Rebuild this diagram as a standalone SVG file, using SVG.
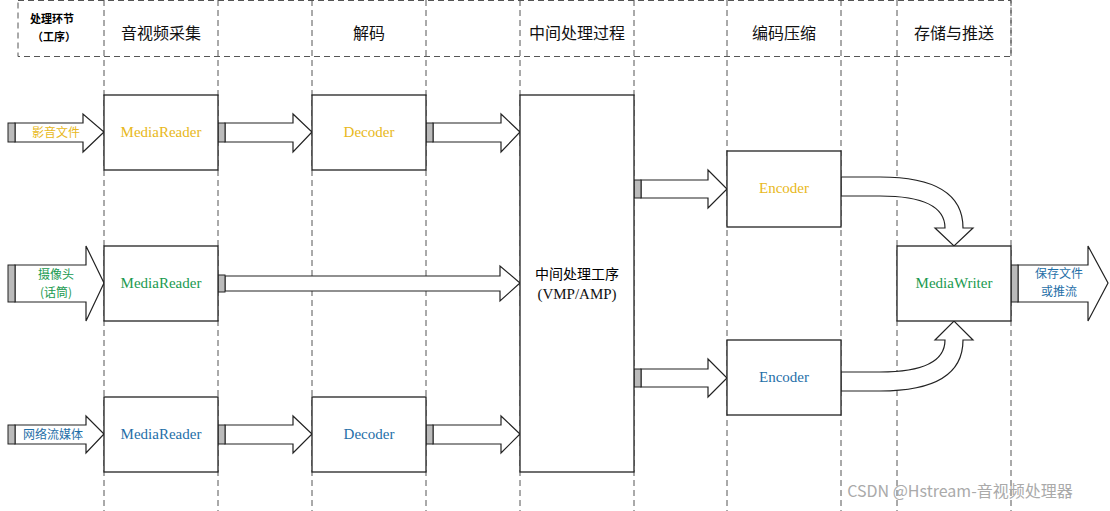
<svg xmlns="http://www.w3.org/2000/svg" width="1110" height="511" viewBox="0 0 1110 511">
<style>
.dash{stroke:#555;stroke-width:1;stroke-dasharray:6,4;fill:none}
.box{fill:#fff;stroke:#222;stroke-width:1.3}
.arr{fill:#fff;stroke:#222;stroke-width:1.2;stroke-linejoin:miter}
.tail{fill:#bbb;stroke:#222;stroke-width:1}
.h{font-family:"Noto Sans CJK SC",sans-serif;font-size:16px;fill:#111;text-anchor:middle}
.t{font-family:"Liberation Serif","Noto Sans CJK SC",serif;font-size:15px;text-anchor:middle}
.c{font-family:"Noto Sans CJK SC",sans-serif;font-size:12px;text-anchor:middle}
.y{fill:#e8b820}.g{fill:#1a9a50}.b{fill:#1f6fa8}
</style>
<rect width="1110" height="511" fill="#fff"/>
<g id="grid">
<rect x="18" y="0.5" width="993" height="56" class="dash"/>
<path class="dash" d="M104 0V511M218 0V511M312 0V511M426 0V511M520 0V511M634 0V511M727 0V511M841 0V511M897 0V511M1011 0V511"/>
<text x="52" y="23" style="font-family:'Noto Sans CJK SC',sans-serif;font-size:11px;font-weight:bold;text-anchor:middle">处理环节</text>
<text x="54" y="41" style="font-family:'Noto Sans CJK SC',sans-serif;font-size:11px;font-weight:bold;text-anchor:middle">（工序）</text>
<text x="161" y="39" class="h">音视频采集</text>
<text x="369" y="39" class="h">解码</text>
<text x="577" y="39" class="h">中间处理过程</text>
<text x="784" y="39" class="h">编码压缩</text>
<text x="954" y="39" class="h">存储与推送</text>
</g>
<g id="connectors">
<path class="arr" d="M15 123H83V114L104 132L83 152V142H15Z"/><rect class="tail" x="8" y="123" width="7" height="19"/>
<path class="arr" d="M15 265H86V246L104 283L86 321V302H15Z"/><rect class="tail" x="8" y="265" width="7" height="37"/>
<path class="arr" d="M15 425H86V416L104 434L86 453V444H15Z"/><rect class="tail" x="8" y="425" width="7" height="19"/>
<path class="arr" d="M225 123H293V114L312 132L293 152V142H225Z"/><rect class="tail" x="218" y="123" width="7" height="19"/>
<path class="arr" d="M433 123H501V114L520 132L501 152V142H433Z"/><rect class="tail" x="426" y="123" width="7" height="19"/>
<path class="arr" d="M225 425H293V416L312 434L293 453V444H225Z"/><rect class="tail" x="218" y="425" width="7" height="19"/>
<path class="arr" d="M433 425H501V416L520 434L501 453V444H433Z"/><rect class="tail" x="426" y="425" width="7" height="19"/>
<path class="arr" d="M225 276H500V266L520 283L500 301V291H225Z"/><rect class="tail" x="218" y="275" width="7" height="17"/>
<path class="arr" d="M641 180H708V170L727 189L708 208V198H641Z"/><rect class="tail" x="634" y="180" width="7" height="18"/>
<path class="arr" d="M641 369H708V359L727 378L708 397V387H641Z"/><rect class="tail" x="634" y="369" width="7" height="18"/>
<path class="arr" d="M1018 265H1088V246L1108 283L1088 321V302H1018Z"/><rect class="tail" x="1011" y="265" width="7" height="37"/>
<path class="arr" d="M841 177H880Q963 177 963 228H973L954 246L935 228H945Q945 196 880 196H841Z"/>
<path class="arr" d="M841 372H880Q945 372 945 340H935L954 321L973 340H963Q963 391 880 391H841Z"/>
<text x="56" y="137" class="c y">影音文件</text>
<text x="56" y="279" class="c g">摄像头</text>
<text x="56" y="297" class="c g">(话筒)</text>
<text x="53" y="439" class="c b">网络流媒体</text>
<text x="1059" y="278" class="c b">保存文件</text>
<text x="1059" y="296" class="c b">或推流</text>
</g>
<g id="mr1"><rect class="box" x="104" y="95" width="114" height="75"/><text x="161" y="137" class="t y">MediaReader</text></g>
<g id="dec1"><rect class="box" x="312" y="95" width="114" height="75"/><text x="369" y="137" class="t y">Decoder</text></g>
<g id="mr2"><rect class="box" x="104" y="246" width="114" height="75"/><text x="161" y="288" class="t g">MediaReader</text></g>
<g id="mr3"><rect class="box" x="104" y="397" width="114" height="75"/><text x="161" y="439" class="t b">MediaReader</text></g>
<g id="dec3"><rect class="box" x="312" y="397" width="114" height="75"/><text x="369" y="439" class="t b">Decoder</text></g>
<g id="mid"><rect class="box" x="520" y="95" width="114" height="377"/>
<text x="577" y="279" style="font-family:'Noto Sans CJK SC',sans-serif;font-size:14px;text-anchor:middle">中间处理工序</text>
<text x="577" y="299" class="t" fill="#111">(VMP/AMP)</text></g>
<g id="enc1"><rect class="box" x="727" y="151" width="114" height="76"/><text x="784" y="193" class="t y">Encoder</text></g>
<g id="enc2"><rect class="box" x="727" y="340" width="114" height="75"/><text x="784" y="382" class="t b">Encoder</text></g>
<g id="mw"><rect class="box" x="897" y="246" width="114" height="75"/><text x="954" y="288" class="t g">MediaWriter</text></g>
<text x="960" y="497" style="font-family:'Noto Sans CJK SC',sans-serif;font-size:16px;fill:#aaa;text-anchor:middle">CSDN @Hstream-音视频处理器</text>
</svg>
